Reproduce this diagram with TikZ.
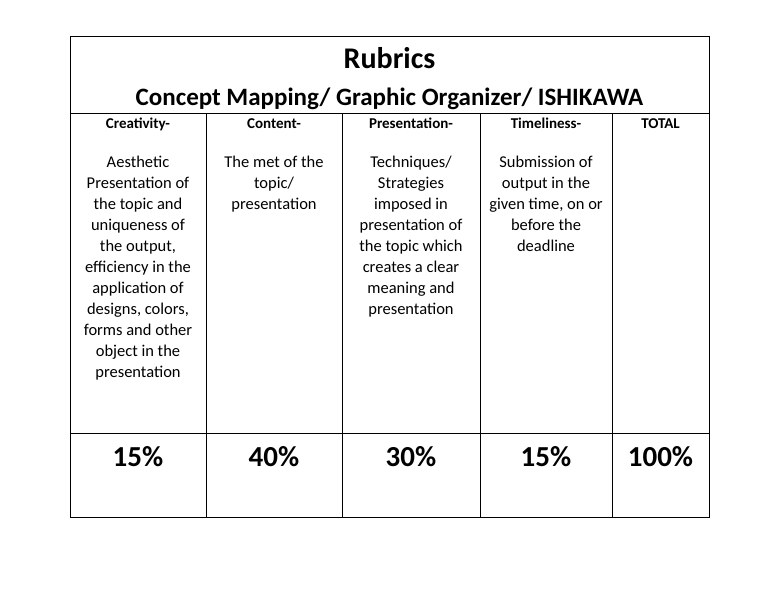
\documentclass[tikz,border=0pt]{standalone}
\usepackage{fontspec}
\setmainfont{Carlito}
\begin{document}
\begin{tikzpicture}[x=1pt,y=-1pt,
  hd/.style={font=\fontsize{15}{18}\selectfont\bfseries,anchor=base},
  bd/.style={font=\fontsize{16.5}{21}\selectfont,align=center,anchor=north,inner sep=0pt},
  pc/.style={font=\fontsize{29}{34}\selectfont\bfseries,anchor=base}]
\useasboundingbox (0,0) rectangle (768,594);
\draw[line width=0.8pt] (70,36) rectangle (709,517);
\draw[line width=0.8pt] (70,113) -- (709,113);
\draw[line width=0.8pt] (70,433) -- (709,433);
\foreach \x in {206,342,480,612} \draw[line width=0.8pt] (\x,113) -- (\x,517);
\node[font=\fontsize{30}{34}\selectfont\bfseries,anchor=base] (t1) at (389.5,68) {Rubrics};
\node[font=\fontsize{25}{30}\selectfont\bfseries,anchor=base] (t2) at (389.5,105) {Concept Mapping/ Graphic Organizer/ ISHIKAWA};
\node[hd] (h1) at (138,128) {Creativity-};
\node[hd] (h2) at (274,128) {Content-};
\node[hd] (h3) at (411,128) {Presentation-};
\node[hd] (h4) at (546,128) {Timeliness-};
\node[hd] (h5) at (660.5,128) {TOTAL};
\node[bd] (b1) at (138,156) {Aesthetic\\Presentation of\\the topic and\\uniqueness of\\the output,\\efficiency in the\\application of\\designs, colors,\\forms and other\\object in the\\presentation};
\node[bd] (b2) at (274,156) {The met of the\\topic/\\presentation};
\node[bd] (b3) at (411,156) {Techniques/\\Strategies\\imposed in\\presentation of\\the topic which\\creates a clear\\meaning and\\presentation};
\node[bd] (b4) at (546,156) {Submission of\\output in the\\given time, on or\\before the\\deadline};
\node[pc] (p1) at (138,466) {15\%};
\node[pc] (p2) at (274,466) {40\%};
\node[pc] (p3) at (411,466) {30\%};
\node[pc] (p4) at (546,466) {15\%};
\node[pc] (p5) at (660.5,466) {100\%};
\end{tikzpicture}
\end{document}
